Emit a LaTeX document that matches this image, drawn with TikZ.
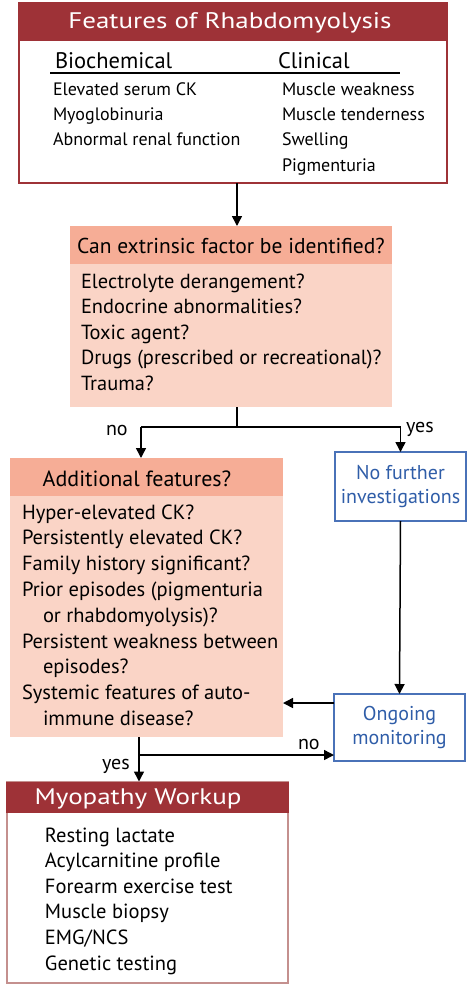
\documentclass[tikz,border=0pt]{standalone}
\usepackage{fontspec}
\setmainfont{PT Sans}
\newfontfamily\widefont[FakeStretch=1.2]{PT Sans}
\usetikzlibrary{arrows.meta}
\definecolor{featred}{HTML}{9E3237}
\definecolor{salmon}{HTML}{F6AD96}
\definecolor{peach}{HTML}{FAD4C6}
\definecolor{bluebox}{HTML}{4A72B8}
\definecolor{bluetext}{HTML}{2F5DA8}
\definecolor{rose}{HTML}{C4908E}
\tikzstyle{arrow} = [line width=1.5pt,-{Triangle[length=10pt,width=10pt]}]
\tikzstyle{line} = [line width=1.5pt]
\tikzstyle{title} = [font=\fontsize{21.5}{26}\selectfont, anchor=base]
\tikzstyle{list} = [font=\fontsize{20.5}{25.6}\selectfont, anchor=base west, align=left]
\tikzstyle{bluenode} = [draw=bluebox, line width=1.5pt, text=bluetext, align=center, font=\fontsize{20}{23.5}\selectfont]

\begin{document}
\begin{tikzpicture}[x=1pt,y=-1pt, every node/.style={inner sep=0pt, outer sep=0pt}]
        \useasboundingbox (0,0) rectangle (470,989);
        % Features box
        \node[draw=featred, line width=2pt, fill=white, minimum width=428, minimum height=180] (featbox) at (233,93) {};
        \node[fill=featred, minimum width=430, minimum height=39] (feathead) at (233,21.5) {};
        \node[title, text=white, font=\widefont\fontsize{22.5}{26}\selectfont] (feattitle) at (230,28) {Features of Rhabdomyolysis};
        \node[title, font=\fontsize{22.5}{26}\selectfont, anchor=base west] (biochem) at (55,68) {Biochemical};
        \node[title, font=\fontsize{22.5}{26}\selectfont, anchor=base west] (clinical) at (278,68) {Clinical};
        \draw[line] (50,73) -- (400,73);
        \node[list, font=\fontsize{18}{25.3}\selectfont] (biolist) at (53,145.6) {Elevated serum CK\\Myoglobinuria\\Abnormal renal function};
        \node[list, font=\fontsize{18}{25.3}\selectfont] (clinlist) at (282,171) {Muscle weakness\\Muscle tenderness\\Swelling\\Pigmenturia};

        % Extrinsic factor box
        \node[fill=peach, minimum width=322, minimum height=181] (extbox) at (231,316.5) {};
        \node[fill=salmon, minimum width=322, minimum height=38] (exthead) at (231,245) {};
        \node[title] (exttitle) at (231,253) {Can extrinsic factor be identified?};
        \node[list, font=\fontsize{20.4}{25.5}\selectfont] (extlist) at (81,390) {Electrolyte derangement?\\Endocrine abnormalities?\\Toxic agent?\\Drugs (prescribed or recreational)?\\Trauma?};

        % Additional features box
        \node[fill=peach, minimum width=273, minimum height=279] (addbox) at (146.5,597.5) {};
        \node[fill=salmon, minimum width=273, minimum height=38] (addhead) at (146.5,477) {};
        \node[title, font=\fontsize{22}{26}\selectfont] (addtitle) at (137,486) {Additional features?};
        \node[list, font=\fontsize{20.5}{25.8}\selectfont] (addlist) at (22,725.4) {Hyper-elevated CK?\\Persistently elevated CK?\\Family history significant?\\Prior episodes (pigmenturia\\\hspace{21pt}or rhabdomyolysis)?\\Persistent weakness between\\\hspace{21pt}episodes?\\Systemic features of auto-\\\hspace{21pt}immune disease?};

        % Blue boxes
        \node[bluenode, minimum width=131, minimum height=69] (nofurther) at (400.5,486.5) {No further\\investigations};
        \node[bluenode, minimum width=131, minimum height=67] (ongoing) at (399.5,727.5) {Ongoing\\monitoring};

        % Myopathy box
        \node[draw=rose, line width=2pt, fill=white, minimum width=281, minimum height=201] (myobox) at (147.5,882.5) {};
        \node[fill=featred, minimum width=283, minimum height=31] (myohead) at (147.5,797) {};
        \node[title, text=white, font=\widefont\fontsize{22.5}{26}\selectfont] (myotitle) at (138,804) {Myopathy Workup};
        \node[list] (myolist) at (45,970) {Resting lactate\\Acylcarnitine profile\\Forearm exercise test\\Muscle biopsy\\EMG/NCS\\Genetic testing};

        % Connectors
        \coordinate (split) at (237,427);
        \coordinate (noturn) at (141,427);
        \coordinate (back) at (334,703);
        \coordinate (yesturn) at (139,755);
        \draw[arrow] (featbox.south -| split) -- (exthead.north -| split);
        \draw[line] (extbox.south -| split) -- (split);
        \draw[line] (split) -- (noturn);
        \draw[arrow] (noturn) -- (addhead.north -| noturn);
        \draw[arrow] (split) -| (nofurther.north);
        \draw[arrow] (nofurther.south) -- (ongoing.north);
        \draw[arrow] (ongoing.west |- back) -- (addbox.east |- back);
        \draw[line] (addbox.south -| yesturn) -- (yesturn);
        \draw[arrow] (yesturn) -- (myohead.north -| yesturn);
        \draw[arrow] (yesturn) -- (ongoing.west |- yesturn);

        % Labels
        \node[list, font=\fontsize{20}{24}\selectfont] (nolabel) at (106,435) {no};
        \node[list, font=\fontsize{20}{24}\selectfont] (yeslabel) at (406,432) {yes};
        \node[list, font=\fontsize{20}{24}\selectfont] (nolabel2) at (298,749) {no};
        \node[list, font=\fontsize{20}{24}\selectfont] (yeslabel2) at (102,769) {yes};
\end{tikzpicture}
\end{document}
